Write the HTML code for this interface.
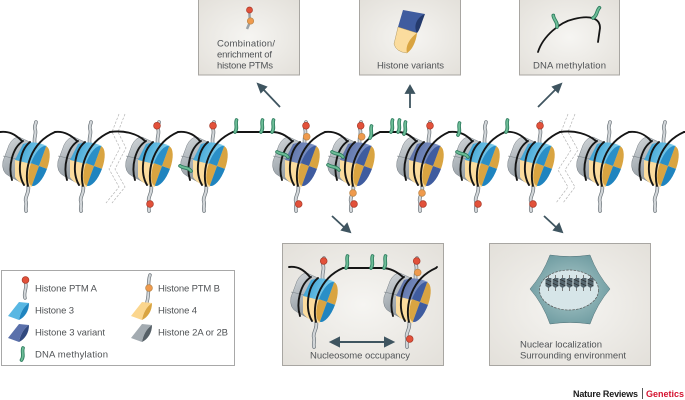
<!DOCTYPE html>
<html><head><meta charset="utf-8"><style>
html,body{margin:0;padding:0;background:#fff}
svg{display:block;font-family:"Liberation Sans",sans-serif;filter:blur(.3px)}
text{font-size:9.5px;fill:#505356}
.dna{fill:none;stroke:#151515;stroke-width:1.9;stroke-linecap:round}
</style></head><body>
<svg width="685" height="400" viewBox="0 0 685 400" xmlns="http://www.w3.org/2000/svg" xmlns:xlink="http://www.w3.org/1999/xlink">
<defs>
<radialGradient id="bg" cx="50%" cy="50%" r="70%"><stop offset="0" stop-color="#f6f5f2"/><stop offset="1" stop-color="#e3e0da"/></radialGradient>
<linearGradient id="gr" x1="0" y1="0" x2="0.4" y2="1"><stop offset="0" stop-color="#d5d9dc"/><stop offset="1" stop-color="#8f989f"/></linearGradient>
<linearGradient id="lb" x1="0" y1="0" x2="1" y2="0.3"><stop offset="0" stop-color="#2d97cd"/><stop offset="1" stop-color="#8ad4f0"/></linearGradient>
<linearGradient id="lv" x1="0" y1="0" x2="1" y2="0.3"><stop offset="0" stop-color="#55699f"/><stop offset="1" stop-color="#8298ca"/></linearGradient>
<radialGradient id="hx" cx="50%" cy="50%" r="60%"><stop offset="0" stop-color="#aecbcb"/><stop offset="1" stop-color="#6a989e"/></radialGradient>
<clipPath id="cap"><ellipse cx="0" cy="0" rx="8.5" ry="21"/></clipPath>

<g id="tt"><path d="M3,-20C1,-28 5,-31 3,-36C2,-39 4,-41 4,-43" fill="none" stroke="#6d757b" stroke-width="3.6" stroke-linecap="round"/><path d="M3,-20C1,-28 5,-31 3,-36C2,-39 4,-41 4,-43" fill="none" stroke="#d2d6d9" stroke-width="2.2" stroke-linecap="round"/></g>
<g id="tb"><path d="M-4,20C-2,28 -8,32 -6,37C-5,40 -7,42 -6,46" fill="none" stroke="#6d757b" stroke-width="3.6" stroke-linecap="round"/><path d="M-4,20C-2,28 -8,32 -6,37C-5,40 -7,42 -6,46" fill="none" stroke="#d2d6d9" stroke-width="2.2" stroke-linecap="round"/></g>

<g id="gray">
<path d="M-13,-28Q-19,-28 -23,-20L-29,-4Q-31,7 -23,11L-12,17L0,-22Z" fill="url(#gr)" stroke="#767e84" stroke-width=".5"/>
<path d="M-29,-9L-15,-6" stroke="#767e84" stroke-width=".6"/>
</g>
<g id="wrap">
<path class="dna" d="M-9,-24C-20,-17 -24,2 -20,15"/>
<path class="dna" d="M-2,-23C-13,-14 -15,8 -8,20"/>
<path class="dna" d="M-4,21C-8,5 -2,-22 23,-33"/>
</g>
<g id="n">
<use xlink:href="#gray"/>
<path d="M-17,-5L-9,-21Q2,-25 15,-19L7,1Z" fill="url(#lb)"/>
<path d="M-17,-5L7,1L0,22Q-12,20 -17,12Z" fill="#fbdc9e"/>
<g transform="translate(7,1) rotate(20)" clip-path="url(#cap)">
<rect x="-10" y="-23" width="10" height="23" fill="#2a8fc7"/>
<rect x="0" y="-23" width="10" height="23" fill="#d9a441"/>
<rect x="-10" y="0" width="10" height="23" fill="#d9a441"/>
<rect x="0" y="0" width="10" height="23" fill="#1f84bf"/>
</g>
<use xlink:href="#wrap"/>
</g>
<g id="v">
<use xlink:href="#gray"/>
<path d="M-17,-5L-9,-21Q2,-25 15,-19L7,1Z" fill="url(#lv)"/>
<path d="M-17,-5L7,1L0,22Q-12,20 -17,12Z" fill="#fbdc9e"/>
<g transform="translate(7,1) rotate(20)" clip-path="url(#cap)">
<rect x="-10" y="-23" width="10" height="23" fill="#3f5c9f"/>
<rect x="0" y="-23" width="10" height="23" fill="#d9a441"/>
<rect x="-10" y="0" width="10" height="23" fill="#d9a441"/>
<rect x="0" y="0" width="10" height="23" fill="#3f5c9f"/>
</g>
<use xlink:href="#wrap"/>
</g>
<circle id="r" r="3.4" fill="#e2513a" stroke="#a93a2a" stroke-width=".7"/>
<circle id="o" r="3.4" fill="#ef9a4d" stroke="#b9864a" stroke-width=".7"/>
<g id="g"><path d="M0,0C3,-4 0,-8 1.5,-12" fill="none" stroke="#2b7a5c" stroke-width="3.6" stroke-linecap="round"/><path d="M0,0C3,-4 0,-8 1.5,-12" fill="none" stroke="#6dbd97" stroke-width="1.9" stroke-linecap="round"/></g>
<g id="mini"><path d="M0,-8V8" stroke="#777" stroke-width="1"/><path d="M-3,-3L-1,-5H3V3L0,5L-3,3Z" fill="#55666e"/><path d="M-3,-4L3,-1M-3,0L3,3" stroke="#222" stroke-width=".6"/></g>
</defs>

<rect width="685" height="400" fill="#fff"/>

<!-- top boxes -->
<rect x="198.500" y="-1" width="101" height="76" fill="url(#bg)" stroke="#a8a6a2"/>
<rect x="359.500" y="-1" width="101" height="76" fill="url(#bg)" stroke="#a8a6a2"/>
<rect x="519.500" y="-1" width="100" height="76" fill="url(#bg)" stroke="#a8a6a2"/>
<text x="217" y="46.500" textLength="58">Combination/</text>
<text x="217" y="57.500" textLength="55">enrichment of</text>
<text x="217" y="68.500" textLength="56">histone PTMs</text>
<text x="377" y="68.500" textLength="67">Histone variants</text>
<text x="533" y="68.500" textLength="73">DNA methylation</text>
<path d="M249,8L250,22L247,29" fill="none" stroke="#9aa1a6" stroke-width="2.500"/>
<circle cx="249.500" cy="10" r="3" fill="#e2513a" stroke="#a93a2a" stroke-width=".7"/>
<circle cx="250.500" cy="21" r="3.200" fill="#ef9a4d" stroke="#b9864a" stroke-width=".7"/>
<path d="M403,10L425,14Q416,20 417,33L398,27Z" fill="#3f5c9f"/>
<path d="M425,14C421,24 420,30 417,33C413,26 417,17 425,14Z" fill="#243a6c"/>
<path d="M398,27L417,33L407,53Q396,52 394,44Z" fill="#fbdc9e" stroke="#a08850" stroke-width=".4"/>
<path d="M417,33C416,42 412,50 407,53C405,46 410,38 417,33Z" fill="#d9a441"/>
<path d="M538,52C543,36 560,22 574,19C590,15 600,18 600,28L598,42" fill="none" stroke="#151515" stroke-width="1.800" stroke-linecap="round"/>
<use xlink:href="#g" transform="translate(557,27) rotate(-25)"/>
<use xlink:href="#g" transform="translate(593,18) rotate(25)"/>

<!-- arrows -->
<g stroke="#3f5560" stroke-width="1.800" fill="#3f5560">
<path d="M280,107L262,88"/><path d="M258,84L266,87L261,92Z"/>
<path d="M410,108V91"/><path d="M410,86L414,93H406Z"/>
<path d="M538,107L557,88"/><path d="M561,84L558,92L553,87Z"/>
<path d="M332,216L346,229"/><path d="M350,232L342,230L347,224Z"/>
<path d="M544,216L558,229"/><path d="M562,232L554,230L559,224Z"/>
</g>

<!-- dashed breaks -->
<g fill="none" stroke="#b5b5b5" stroke-width=".7" stroke-dasharray="2.500 1.500">
<path d="M119,114L112,132L120,148L109,169L119,187L106,203"/>
<path d="M125,114L118,132L126,148L115,169L125,187L112,203"/>
<path d="M568,114L561,132L571,150L558,170L568,187L556,203"/>
<path d="M575,114L568,132L578,150L565,170L575,187L563,203"/>
</g>

<!-- tails -->
<g>
<use xlink:href="#tt" x="32" y="165"/><use xlink:href="#tb" x="32" y="165"/>
<use xlink:href="#tt" x="87" y="165"/><use xlink:href="#tb" x="87" y="165"/>
<use xlink:href="#tt" x="155" y="165"/><use xlink:href="#tb" x="155" y="165"/>
<use xlink:href="#tt" x="210" y="165"/><use xlink:href="#tb" x="210" y="165"/>
<use xlink:href="#tt" x="302" y="165"/><use xlink:href="#tb" x="302" y="165"/>
<use xlink:href="#tt" x="357" y="165"/><use xlink:href="#tb" x="357" y="165"/>
<use xlink:href="#tt" x="426" y="165"/><use xlink:href="#tb" x="426" y="165"/>
<use xlink:href="#tt" x="482" y="165"/><use xlink:href="#tb" x="482" y="165"/>
<use xlink:href="#tt" x="537" y="165"/><use xlink:href="#tb" x="537" y="165"/>
<use xlink:href="#tt" x="606" y="165"/><use xlink:href="#tb" x="606" y="165"/>
<use xlink:href="#tt" x="661" y="165"/><use xlink:href="#tb" x="661" y="165"/>
</g>

<!-- nucleosomes -->
<use xlink:href="#n" x="32" y="165"/>
<use xlink:href="#n" x="87" y="165"/>
<use xlink:href="#n" x="155" y="165"/>
<use xlink:href="#n" x="210" y="165"/>
<use xlink:href="#v" x="302" y="165"/>
<use xlink:href="#v" x="357" y="165"/>
<use xlink:href="#v" x="426" y="165"/>
<use xlink:href="#n" x="482" y="165"/>
<use xlink:href="#n" x="537" y="165"/>
<use xlink:href="#n" x="606" y="165"/>
<use xlink:href="#n" x="661" y="165"/>

<!-- links -->
<g>
<path class="dna" d="M0,132C9,131 15,134 22,141"/>
<path class="dna" d="M55,132C63,131 70,134 77,141"/>
<path class="dna" d="M110,132C125,130 138,134 145,141"/>
<path class="dna" d="M178,132C187,131 194,134 200,141"/>
<path class="dna" d="M233,132H272C281,132 287,136 292,141"/>
<path class="dna" d="M325,132C334,131 341,134 347,141"/>
<path class="dna" d="M380,132H397C406,132 411,136 416,141"/>
<path class="dna" d="M449,132C458,131 466,134 472,141"/>
<path class="dna" d="M505,132C513,131 521,134 527,141"/>
<path class="dna" d="M560,132C575,130 588,134 596,141"/>
<path class="dna" d="M629,132C637,131 645,134 651,141"/>
<path class="dna" d="M684,132H685"/>
</g>

<!-- PTM dots -->
<use xlink:href="#r" x="157" y="125.700"/><use xlink:href="#r" x="150" y="204"/>
<use xlink:href="#r" x="213" y="125.700"/>
<use xlink:href="#r" x="306" y="125.700"/><use xlink:href="#o" x="306.700" y="136.700"/><use xlink:href="#r" x="298.700" y="204"/>
<use xlink:href="#r" x="360.700" y="125.700"/><use xlink:href="#o" x="361.700" y="136.700"/><use xlink:href="#o" x="353" y="193"/><use xlink:href="#r" x="354" y="204"/>
<use xlink:href="#r" x="430" y="125.700"/><use xlink:href="#o" x="422" y="193"/><use xlink:href="#r" x="423" y="204"/>
<use xlink:href="#r" x="478" y="204"/>
<use xlink:href="#r" x="540" y="125.700"/><use xlink:href="#r" x="533" y="204"/>

<!-- green marks -->
<use xlink:href="#g" x="235" y="132"/>
<use xlink:href="#g" x="261" y="132"/>
<use xlink:href="#g" x="272" y="132"/>
<use xlink:href="#g" x="370" y="138"/>
<use xlink:href="#g" x="391" y="132"/>
<use xlink:href="#g" x="398" y="132"/>
<use xlink:href="#g" x="404" y="134"/>
<use xlink:href="#g" x="458" y="135"/>
<use xlink:href="#g" x="506" y="132"/>
<use xlink:href="#g" transform="translate(191,171) rotate(-72)"/>
<use xlink:href="#g" transform="translate(288,157) rotate(-72)"/>
<use xlink:href="#g" transform="translate(343,157) rotate(-72)"/>
<use xlink:href="#g" transform="translate(339,170) rotate(-72)"/>
<use xlink:href="#g" transform="translate(468,157) rotate(-72)"/>

<!-- legend -->
<rect x="1.500" y="270.500" width="233" height="95" fill="#fff" stroke="#a8a8a8"/>
<text x="35" y="291.500" textLength="62">Histone PTM A</text>
<text x="35" y="313.500" textLength="39">Histone 3</text>
<text x="35" y="335.500" textLength="70">Histone 3 variant</text>
<text x="35" y="357.500" textLength="73">DNA methylation</text>
<text x="158" y="291.500" textLength="62">Histone PTM B</text>
<text x="158" y="313.500" textLength="39">Histone 4</text>
<text x="158" y="335.500" textLength="70">Histone 2A or 2B</text>
<path d="M25,280C28,288 23,292 25,298" fill="none" stroke="#6d757b" stroke-width="3.4" stroke-linecap="round"/>
<path d="M25,280C28,288 23,292 25,298" fill="none" stroke="#d2d6d9" stroke-width="2" stroke-linecap="round"/>
<use xlink:href="#r" x="25.500" y="280"/>
<path d="M150,275C147,283 150,292 147,302" fill="none" stroke="#6d757b" stroke-width="3.4" stroke-linecap="round"/>
<path d="M150,275C147,283 150,292 147,302" fill="none" stroke="#d2d6d9" stroke-width="2" stroke-linecap="round"/>
<use xlink:href="#o" x="149" y="288"/>
<path d="M8,316L19,302L29,303C23,307 20,314 19,320Z" fill="#58b7e3"/><path d="M29,303C29,311 25,317 19,320C20,314 23,307 29,303Z" fill="#1f84bf"/>
<path d="M8,338L19,324L29,325C23,329 20,336 19,342Z" fill="#5a70ab"/><path d="M29,325C29,333 25,339 19,342C20,336 23,329 29,325Z" fill="#31497f"/>
<path d="M131,316L142,302L152,303C146,307 143,314 142,320Z" fill="#fbd68e"/><path d="M152,303C152,311 148,317 142,320C143,314 146,307 152,303Z" fill="#d9a441"/>
<path d="M131,338L142,324L152,325C146,329 143,336 142,342Z" fill="#a3abb1"/><path d="M152,325C152,333 148,339 142,342C143,336 146,329 152,325Z" fill="#566067"/>
<use xlink:href="#g" x="21.500" y="360"/>

<!-- occupancy box -->
<rect x="282.500" y="243.500" width="161" height="122" fill="url(#bg)" stroke="#a8a6a2"/>
<use xlink:href="#tt" x="320" y="301"/><use xlink:href="#tb" x="320" y="301"/>
<use xlink:href="#tt" x="413" y="301"/><use xlink:href="#tb" x="413" y="301"/>
<use xlink:href="#n" x="320" y="301"/>
<use xlink:href="#v" x="413" y="301"/>
<path class="dna" d="M289,267C298,266 304,270 310,277"/>
<path class="dna" d="M343,268H381C391,268 397,272 403,277"/>
<path class="dna" d="M436,268L437,267"/>
<use xlink:href="#r" x="323.700" y="261"/>
<use xlink:href="#r" x="416.700" y="261"/><use xlink:href="#o" x="417.700" y="272.500"/><use xlink:href="#r" x="409.700" y="339"/>
<use xlink:href="#g" x="346" y="268"/><use xlink:href="#g" x="371" y="268"/><use xlink:href="#g" x="384" y="268"/>
<g stroke="#3f5560" stroke-width="2" fill="#3f5560"><path d="M336,342H388"/><path d="M331,342L339,338V346Z"/><path d="M393,342L385,338V346Z"/></g>
<text x="310" y="358.500" textLength="100">Nucleosome occupancy</text>

<!-- localization box -->
<rect x="489.500" y="243.500" width="161" height="122" fill="url(#bg)" stroke="#a8a6a2"/>
<path d="M550,255Q570,258 590,255Q597,274 610,289Q597,304 590,324Q570,321 550,324Q543,304 530,289Q543,274 550,255Z" fill="url(#hx)" stroke="#4f6f75" stroke-width=".5"/>
<ellipse cx="569" cy="290" rx="29.500" ry="20" fill="#d6e5e8" stroke="#555" stroke-width=".7" stroke-dasharray="2.500 1.200"/>
<use xlink:href="#mini" x="548.500" y="283"/><use xlink:href="#mini" x="555.500" y="283"/><use xlink:href="#mini" x="562.500" y="283"/><use xlink:href="#mini" x="569.500" y="283"/><use xlink:href="#mini" x="576.500" y="283"/><use xlink:href="#mini" x="583.500" y="283"/><use xlink:href="#mini" x="590.500" y="283"/>
<text x="520" y="347.500" textLength="82">Nuclear localization</text>
<text x="520" y="358.500" textLength="106">Surrounding environment</text>

<text x="573" y="397" style="font-weight:bold;fill:#1a1a1a;font-size:9px" textLength="65">Nature Reviews</text>
<rect x="642" y="388" width=".9" height="11" fill="#444"/>
<text x="646" y="397" style="font-weight:bold;fill:#d5122f;font-size:9px" textLength="38">Genetics</text>
</svg>
</body></html>
